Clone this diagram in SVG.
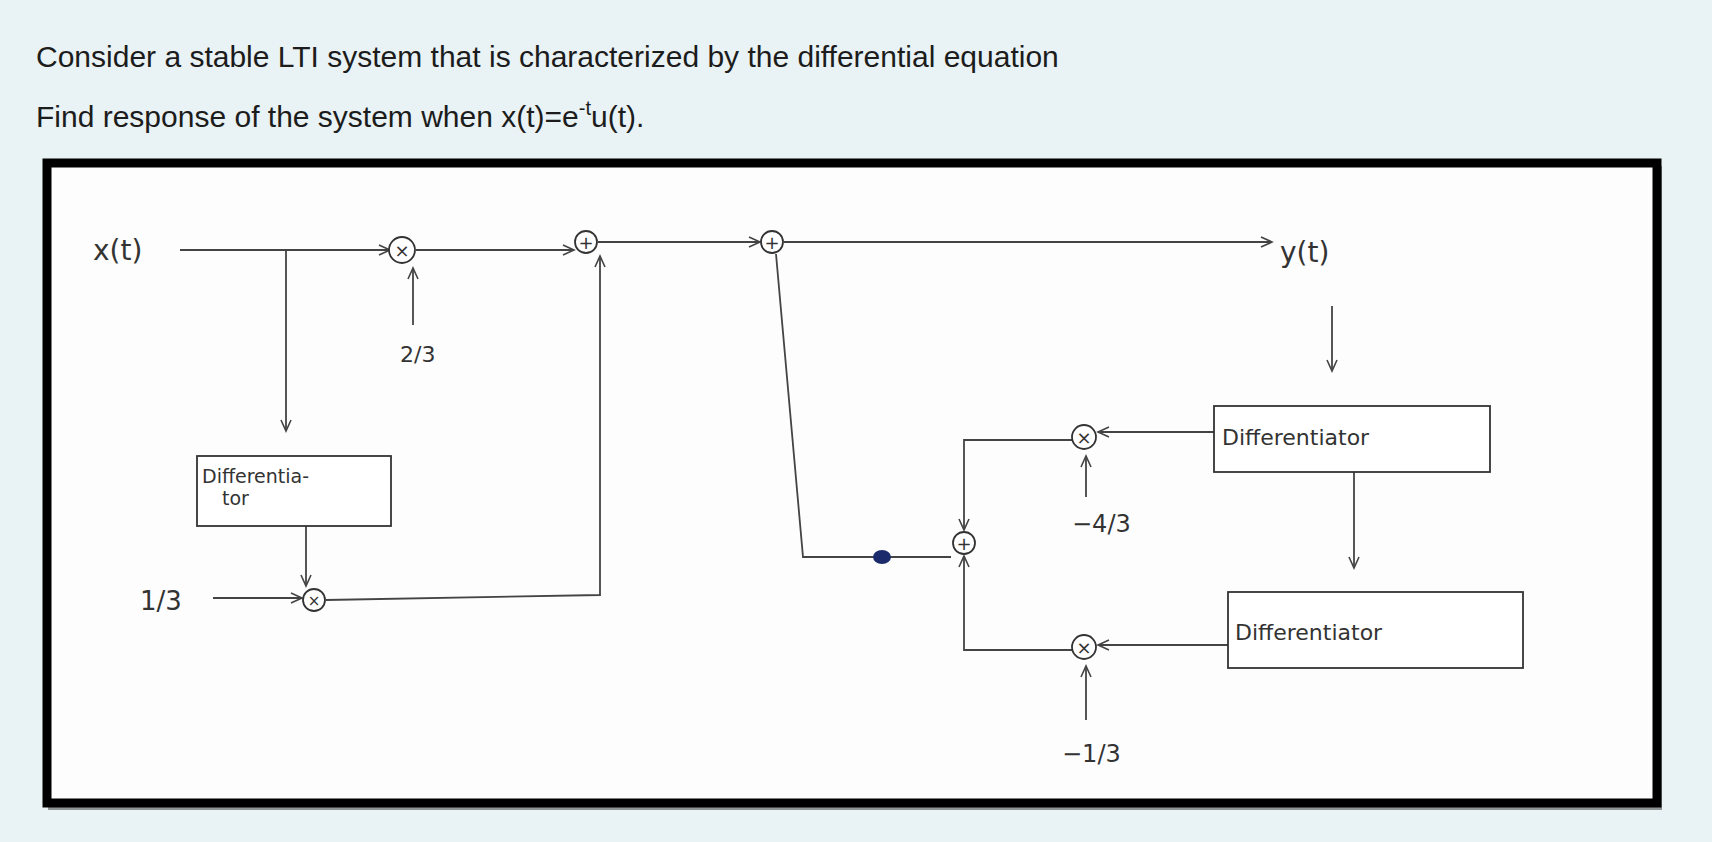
<svg xmlns="http://www.w3.org/2000/svg" width="1712" height="842" viewBox="0 0 1712 842">
<style>
.t{font-family:"Liberation Sans",Arial,sans-serif;font-size:30px;fill:#1c1c1c}
.h{font-family:"DejaVu Sans",sans-serif;fill:#333}
.l{stroke:#444;stroke-width:1.8;fill:none}
.c{stroke:#333;stroke-width:1.8;fill:#fff}
.b{stroke:#333;stroke-width:1.8;fill:#fff}
</style>
<defs><marker id="a" markerWidth="14" markerHeight="12" refX="12" refY="6" orient="auto" markerUnits="userSpaceOnUse"><path d="M1,1 L12,6 L1,11" fill="none" stroke="#444" stroke-width="1.6"/></marker></defs>
<rect width="1712" height="842" fill="#e9f2f4"/>
<text class="t" x="36" y="67">Consider a stable LTI system that is characterized by the differential equation</text>
<text class="t" x="36" y="127">Find response of the system when x(t)=e<tspan dy="-12" font-size="20">-t</tspan><tspan dy="12">u(t).</tspan></text>
<rect x="48" y="166" width="1614" height="644" fill="#333" opacity="0.5"/>
<rect x="47" y="163" width="1610" height="640" fill="#fdfdfd" stroke="#000" stroke-width="9"/>
<g id="connectors">
<path class="l" d="M180,250 H390" marker-end="url(#a)"/>
<path class="l" d="M416,250 H574" marker-end="url(#a)"/>
<path class="l" d="M598,242 H760" marker-end="url(#a)"/>
<path class="l" d="M784,242 H1272" marker-end="url(#a)"/>
<path class="l" d="M286,250 V431" marker-end="url(#a)"/>
<path class="l" d="M413,325 V268" marker-end="url(#a)"/>
<path class="l" d="M306,524 V586" marker-end="url(#a)"/>
<path class="l" d="M213,598 H302" marker-end="url(#a)"/>
<path class="l" d="M326,600 L600,595 V256" marker-end="url(#a)"/>
<path class="l" d="M776,254 L803,557 H951"/>
<path class="l" d="M1332,306 V371" marker-end="url(#a)"/>
<path class="l" d="M1214,432 H1098" marker-end="url(#a)"/>
<path class="l" d="M1072,440 H964 V530" marker-end="url(#a)"/>
<path class="l" d="M1086,497 V456" marker-end="url(#a)"/>
<path class="l" d="M1354,472 V568" marker-end="url(#a)"/>
<path class="l" d="M1228,645 H1098" marker-end="url(#a)"/>
<path class="l" d="M1072,650 H964 V556" marker-end="url(#a)"/>
<path class="l" d="M1086,720 V666" marker-end="url(#a)"/>
<ellipse cx="882" cy="557" rx="9" ry="7" fill="#1a2a6a"/>
</g>
<g id="x"><text class="h" x="93" y="260" font-size="28">x(t)</text></g>
<g id="y"><text class="h" x="1280" y="262" font-size="28">y(t)</text></g>
<g id="m1"><circle class="c" cx="402" cy="250" r="13"/><text class="h" x="402" y="257" font-size="18" text-anchor="middle">×</text></g>
<g id="g23"><text class="h" x="400" y="362" font-size="22">2/3</text></g>
<g id="p1"><circle class="c" cx="586" cy="242" r="11"/><text class="h" x="586" y="249" font-size="18" text-anchor="middle">+</text></g>
<g id="p2"><circle class="c" cx="772" cy="242" r="11"/><text class="h" x="772" y="249" font-size="18" text-anchor="middle">+</text></g>
<g id="d1"><rect class="b" x="197" y="456" width="194" height="70"/><text class="h" x="202" y="483" font-size="19">Differentia-</text><text class="h" x="222" y="505" font-size="19">tor</text></g>
<g id="m2"><circle class="c" cx="314" cy="600" r="11"/><text class="h" x="314" y="606" font-size="15" text-anchor="middle">×</text></g>
<g id="g13"><text class="h" x="140" y="610" font-size="26">1/3</text></g>
<g id="p3"><circle class="c" cx="964" cy="543" r="11"/><text class="h" x="964" y="550" font-size="18" text-anchor="middle">+</text></g>
<g id="d2"><rect class="b" x="1214" y="406" width="276" height="66"/><text class="h" x="1222" y="445" font-size="22">Differentiator</text></g>
<g id="m3"><circle class="c" cx="1084" cy="437" r="12"/><text class="h" x="1084" y="444" font-size="18" text-anchor="middle">×</text></g>
<g id="g43"><text class="h" x="1072" y="532" font-size="24">−4/3</text></g>
<g id="d3"><rect class="b" x="1228" y="592" width="295" height="76"/><text class="h" x="1235" y="640" font-size="22">Differentiator</text></g>
<g id="m4"><circle class="c" cx="1084" cy="647" r="12"/><text class="h" x="1084" y="654" font-size="18" text-anchor="middle">×</text></g>
<g id="g13b"><text class="h" x="1062" y="762" font-size="24">−1/3</text></g>
</svg>
